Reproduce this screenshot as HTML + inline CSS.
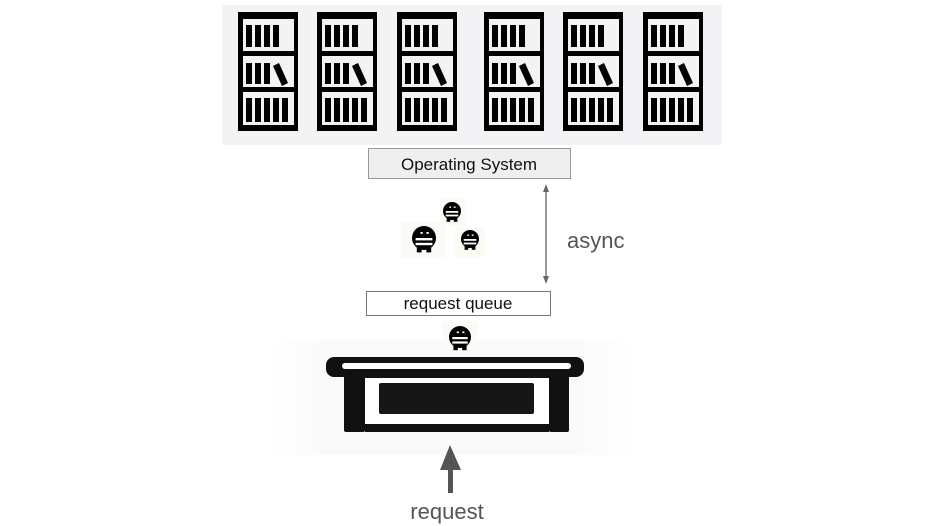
<!DOCTYPE html>
<html><head><style>
html,body{margin:0;padding:0;background:#fff;}
svg{display:block;}
text{font-family:"Liberation Sans",sans-serif;}
</style></head><body>
<svg width="938" height="526" viewBox="0 0 938 526" xmlns="http://www.w3.org/2000/svg">
<defs>
<g id="bc">
<rect x="0" y="0" width="60" height="119" fill="#000"/>
<rect x="5" y="7" width="51" height="32" fill="#f3f3f5"/>
<rect x="5" y="44" width="51" height="31" fill="#f3f3f5"/>
<rect x="5" y="80" width="51" height="33" fill="#f3f3f5"/>
<rect x="8" y="13" width="6" height="22" fill="#000"/>
<rect x="17" y="13" width="6" height="22" fill="#000"/>
<rect x="26" y="13" width="6" height="22" fill="#000"/>
<rect x="35" y="13" width="6" height="22" fill="#000"/>
<rect x="8" y="51" width="6" height="21" fill="#000"/>
<rect x="17" y="51" width="6" height="21" fill="#000"/>
<rect x="26" y="51" width="6" height="21" fill="#000"/>
<polygon points="35,54 41,51 50,71 44,74" fill="#000"/>
<rect x="8" y="86" width="6" height="24" fill="#000"/>
<rect x="17" y="86" width="6" height="24" fill="#000"/>
<rect x="26" y="86" width="6" height="24" fill="#000"/>
<rect x="35" y="86" width="6" height="24" fill="#000"/>
<rect x="44" y="86" width="6" height="24" fill="#000"/>
</g>
<g id="fig">
<circle cx="0" cy="0" r="10" fill="#000"/>
<rect x="-7" y="0" width="14" height="2" fill="#fff"/>
<rect x="-7" y="4" width="14" height="2" fill="#fff"/>
<rect x="-3" y="-5" width="2" height="1.5" fill="#fff"/>
<rect x="2" y="-5" width="2" height="1.5" fill="#fff"/>
<rect x="-6" y="8" width="4" height="4" fill="#000"/>
<rect x="2" y="8" width="4" height="4" fill="#000"/>
</g>
<linearGradient id="dg" x1="0" y1="0" x2="1" y2="0">
<stop offset="0" stop-color="#fff"/><stop offset="0.15" stop-color="#fafafa"/><stop offset="0.85" stop-color="#fafafa"/><stop offset="1" stop-color="#fff"/>
</linearGradient>
</defs>

<rect x="222" y="5" width="500" height="140" fill="#f3f3f5"/>
<use href="#bc" x="238" y="12"/>
<use href="#bc" x="317" y="12"/>
<use href="#bc" x="397" y="12"/>
<use href="#bc" x="484" y="12"/>
<use href="#bc" x="563" y="12"/>
<use href="#bc" x="643" y="12"/>

<rect x="368.5" y="148.5" width="202" height="30" fill="#efefef" stroke="#999" stroke-width="1"/>
<text x="469" y="170" font-size="17" text-anchor="middle" fill="#111">Operating System</text>

<rect x="440" y="198" width="26" height="28" fill="#fbfaf5"/>
<rect x="401" y="222" width="44" height="36" fill="#fbfaf5"/>
<rect x="455" y="227" width="30" height="30" fill="#fbfaf5"/>
<use href="#fig" transform="translate(452,211) scale(0.9)"/>
<use href="#fig" transform="translate(424,238) scale(1.2)"/>
<use href="#fig" transform="translate(470,239) scale(0.9)"/>

<line x1="546" y1="190" x2="546" y2="278" stroke="#777" stroke-width="1.5"/>
<polygon points="546,184 543,192 549,192" fill="#666"/>
<polygon points="546,284 543,276 549,276" fill="#666"/>
<text x="567" y="248" font-size="22" fill="#555">async</text>

<rect x="366.5" y="291.5" width="184" height="24" fill="#fff" stroke="#777" stroke-width="1"/>
<text x="458" y="309" font-size="17" text-anchor="middle" fill="#111">request queue</text>

<rect x="270" y="340" width="362" height="115" fill="url(#dg)"/>
<rect x="443" y="322" width="34" height="32" fill="#fbfaf5"/>
<use href="#fig" transform="translate(460,337) scale(1.1)"/>

<rect x="326" y="357" width="258" height="20" rx="8" fill="#111"/>
<rect x="342" y="363" width="229" height="6" rx="3" fill="#fff"/>
<rect x="344" y="375" width="21" height="57" rx="2" fill="#111"/>
<rect x="549" y="375" width="20" height="57" rx="2" fill="#111"/>
<rect x="365" y="377" width="184" height="47" fill="#fff"/>
<rect x="365" y="424" width="184" height="8" fill="#111"/>
<rect x="365" y="375" width="184" height="3" fill="#111"/>
<rect x="379" y="383" width="155" height="31" rx="2" fill="#161616"/>

<polygon points="450,445 440,470 461,470" fill="#555"/>
<rect x="448" y="468" width="5" height="25" fill="#555"/>
<text x="447" y="519" font-size="22" text-anchor="middle" fill="#555">request</text>
</svg>
</body></html>
